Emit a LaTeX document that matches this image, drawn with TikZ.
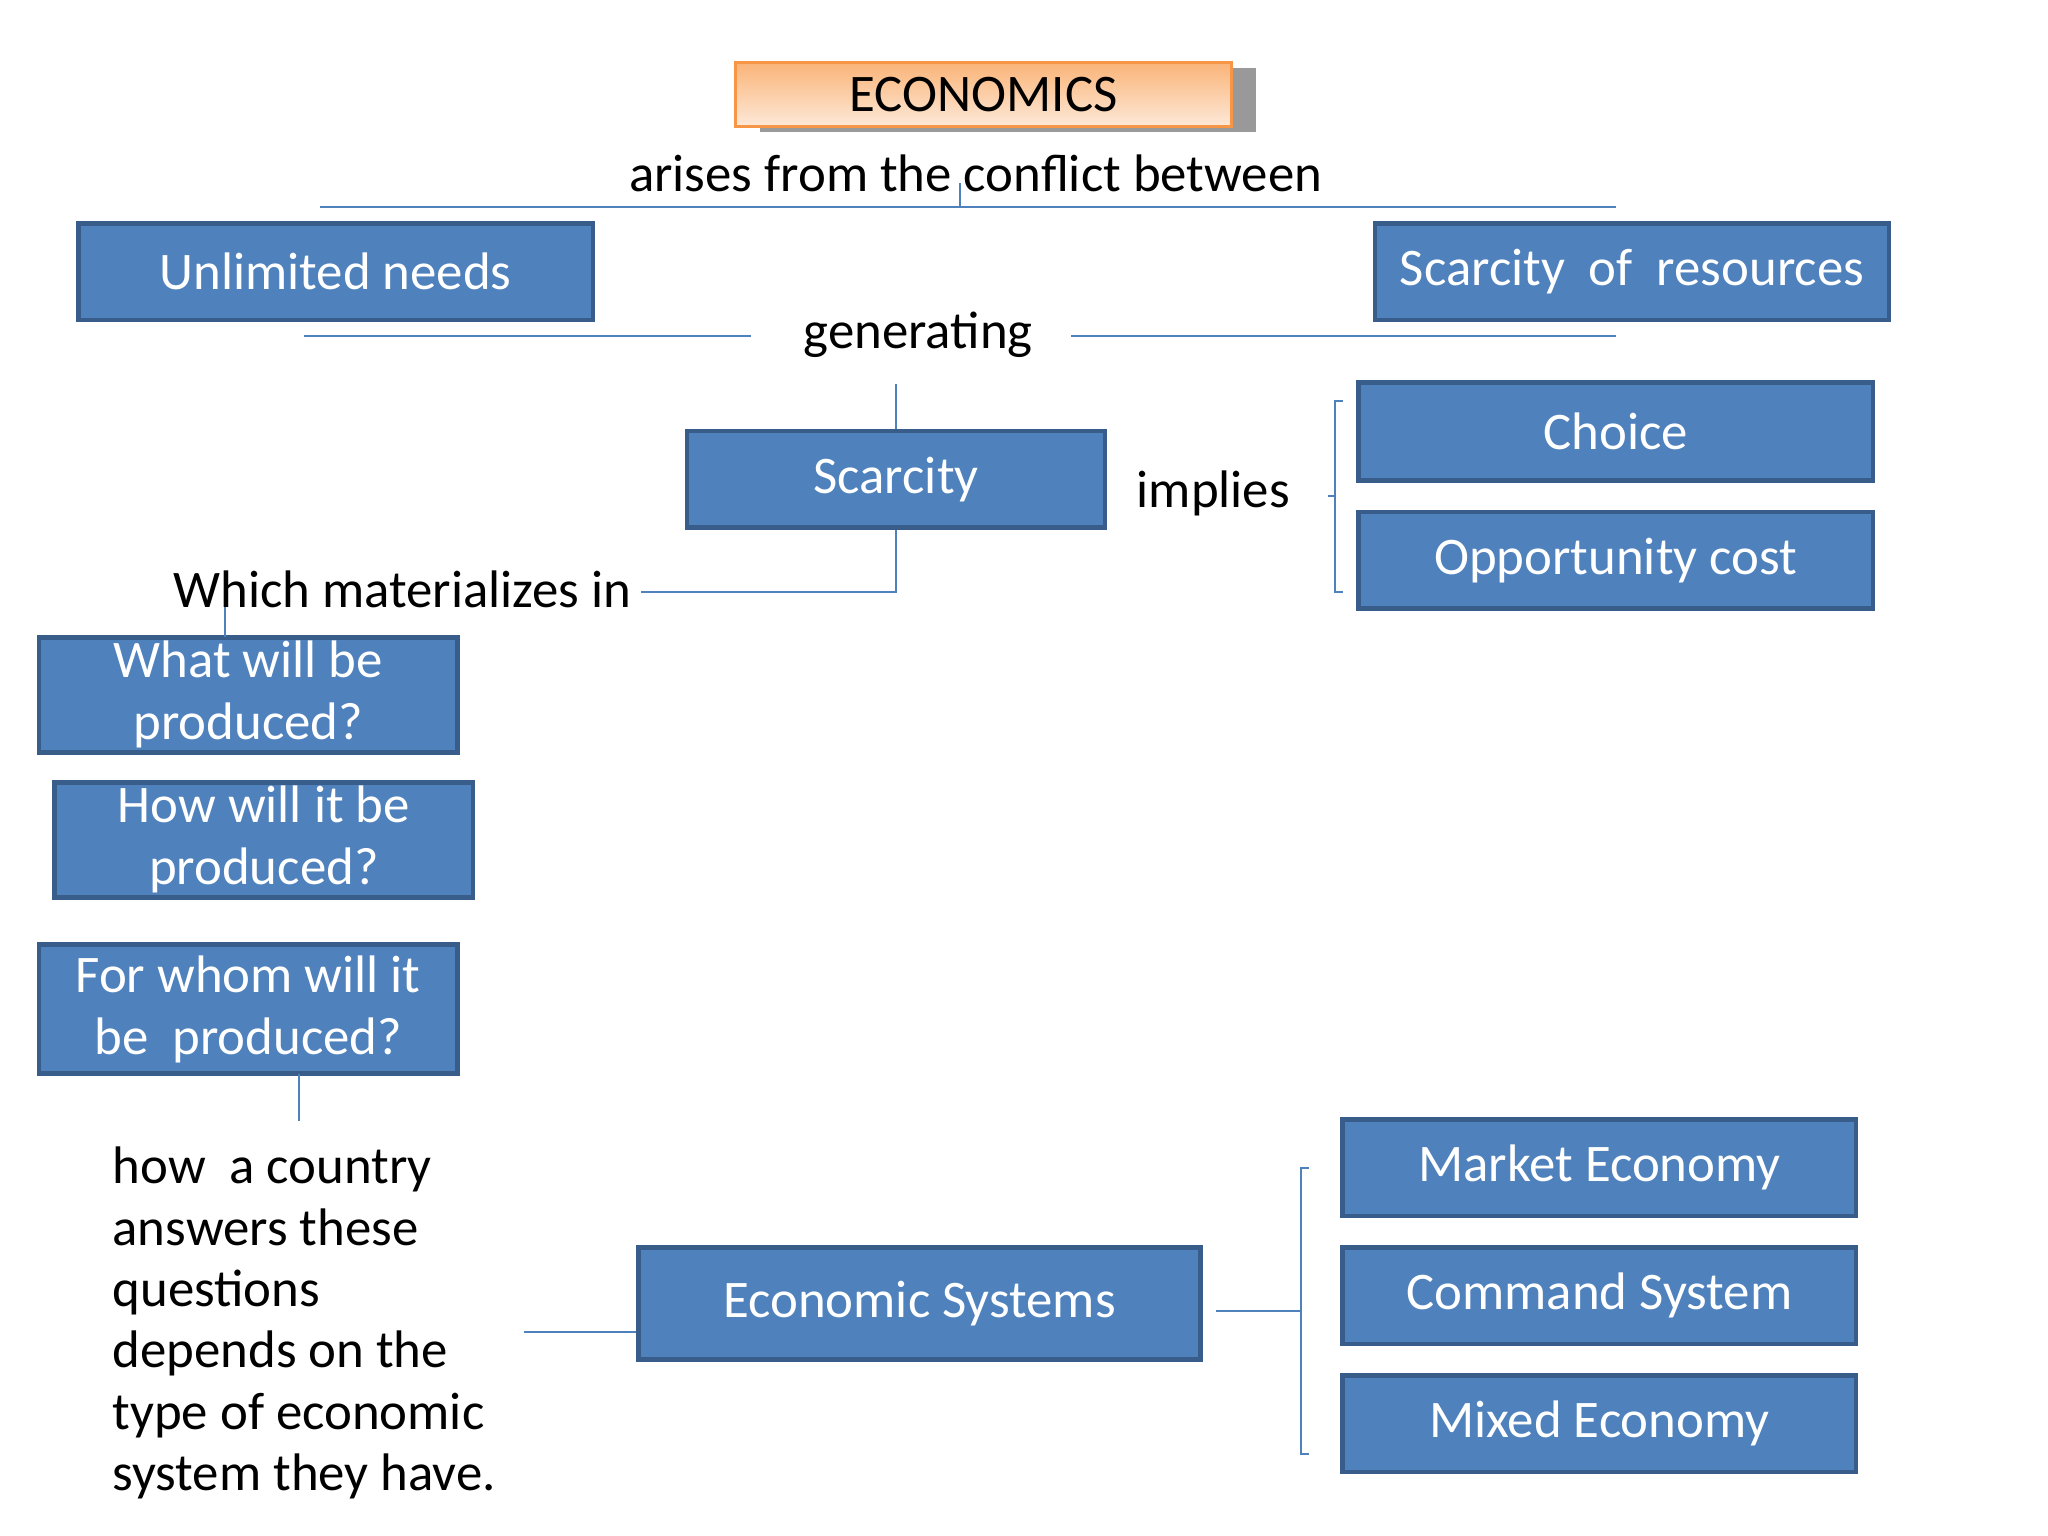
\documentclass[tikz,border=0pt]{standalone}
\usepackage{fontspec}
\setmainfont{Carlito}
\begin{document}
\begin{tikzpicture}[x=0.01cm,y=-0.01cm,
  box/.style={draw=bordblue,line width=1pt,fill=boxblue,text=white,font=\fontsize{11.5pt}{13.5pt}\selectfont,align=center,inner sep=0pt},
  lbl/.style={font=\fontsize{11.5pt}{13.5pt}\selectfont,inner sep=1pt},
  ln/.style={draw=boxblue,line width=0.5pt}]
\definecolor{boxblue}{HTML}{4F81BD}
\definecolor{bordblue}{HTML}{385D8A}
\useasboundingbox[fill=white] (0,0) rectangle (1568,1176);
% title
\fill[gray!80] (582,52) rectangle (962,101);
\node[draw={rgb,255:red,247;green,150;blue,70},line width=0.6pt,top color={rgb,255:red,250;green,180;blue,120},bottom color={rgb,255:red,253;green,233;blue,217},minimum width=3.8cm,minimum height=0.49cm,inner sep=0pt,font=\fontsize{11.5pt}{13.5pt}\selectfont] (eco) at (753,72.5) {ECONOMICS};
\node[lbl] (arises) at (747,133) {arises from the conflict between};
\coordinate (a1) at (735,140); \coordinate (a2) at (735,158.5);
\draw[ln] (a1) -- (a2);
\coordinate (l1) at (245,158.5); \coordinate (l2) at (1237,158.5);
\draw[ln] (l1) -- (l2);
\node[box,minimum width=3.94cm,minimum height=0.74cm] (un) at (257,208) {Unlimited needs};
\node[box,minimum width=3.93cm,minimum height=0.74cm] (sr) at (1249.5,208) {Scarcity\ \ of\ \ resources};
\node[lbl] (gen) at (703,256) {generating};
\coordinate (g1) at (233,257); \coordinate (g2) at (575,257);
\coordinate (g3) at (820,257); \coordinate (g4) at (1237,257);
\draw[ln] (g1) -- (g2); \draw[ln] (g3) -- (g4);
\node[box,minimum width=3.2cm,minimum height=0.74cm] (sc) at (686,367) {Scarcity};
\coordinate (s0) at (686,294);
\draw[ln] (s0) -- (sc.north);
\node[lbl] (imp) at (929,378) {implies};
\draw[ln] (1028,307) -- (1022,307) -- (1022,453) -- (1028,453);
\draw[ln] (1017,380) -- (1022,380);
\node[box,minimum width=3.94cm,minimum height=0.75cm] (ch) at (1237,330.5) {Choice};
\node[box,minimum width=3.94cm,minimum height=0.74cm] (oc) at (1237,429) {Opportunity cost};
\node[lbl] (wm) at (308,451) {Which materializes in};
\coordinate (w1) at (686,453); \coordinate (w2) at (491,453);
\draw[ln] (sc.south) -- (w1) -- (w2);
\coordinate (v1) at (172,465);
\node[box,minimum width=3.2cm,minimum height=0.88cm] (what) at (190,532) {What will be\\produced?};
\draw[ln] (v1) -- (172,488);
\node[box,minimum width=3.2cm,minimum height=0.88cm] (how) at (202,643) {How will it be\\produced?};
\node[box,minimum width=3.2cm,minimum height=0.99cm] (whom) at (190,772.5) {For whom will it\\be\ \ produced?};
\coordinate (h1) at (229,822); \coordinate (h2) at (229,858);
\draw[ln] (h1) -- (h2);
\node[lbl,anchor=north west,align=left,font=\fontsize{11.5pt}{13.35pt}\selectfont] (txt) at (82,874) {how\ \ a country\\answers these\\questions\\depends on the\\type of economic\\system they have.};
\node[box,minimum width=4.3cm,minimum height=0.86cm] (es) at (704,998) {Economic Systems};
\coordinate (e1) at (401,1020);
\draw[ln] (e1) -- (es.west |- e1);
\coordinate (e2) at (931,1004); \coordinate (e3) at (996,1004);
\draw[ln] (e2) -- (e3);
\draw[ln] (1002,894) -- (996,894) -- (996,1113) -- (1002,1113);
\node[box,minimum width=3.93cm,minimum height=0.74cm] (me) at (1224.5,894) {Market Economy};
\node[box,minimum width=3.93cm,minimum height=0.74cm] (cs) at (1224.5,992) {Command System};
\node[box,minimum width=3.93cm,minimum height=0.74cm] (mx) at (1224.5,1090) {Mixed Economy};
\end{tikzpicture}
\end{document}
